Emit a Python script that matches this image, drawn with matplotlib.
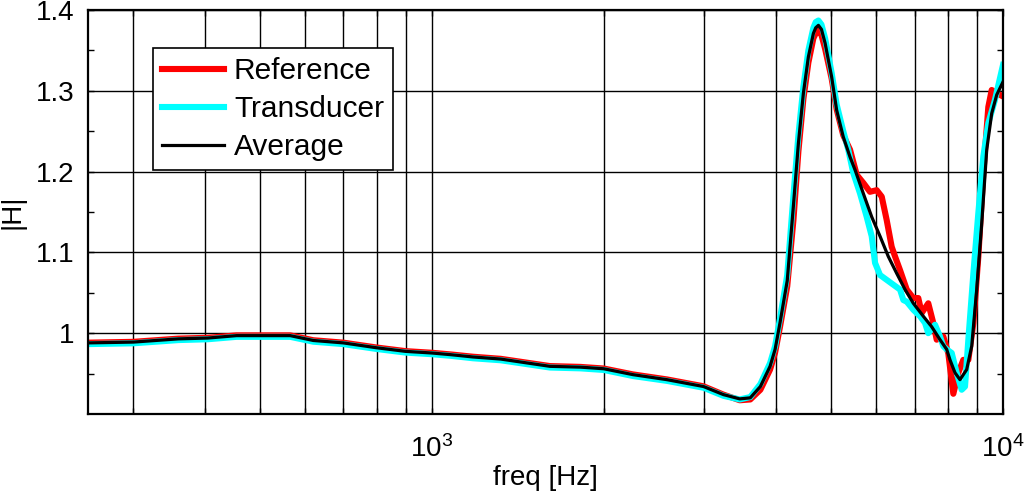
import matplotlib
matplotlib.use("Agg")
import matplotlib.pyplot as plt
from matplotlib.ticker import LogLocator, FixedLocator, NullFormatter

plt.rcParams['font.family'] = ['Liberation Sans', 'DejaVu Sans']
plt.rcParams['mathtext.fontset'] = 'custom'
plt.rcParams['mathtext.rm'] = 'Liberation Sans'
plt.rcParams['mathtext.it'] = 'Liberation Sans'

# ---- data ----
ref_freq = [250, 300, 360, 405, 455, 565, 620, 700, 800, 900, 1000, 1080, 1180, 1320,
            1610, 1820, 2000, 2250, 2580, 2990, 3240, 3460, 3610, 3760, 3910, 3990,
            4070, 4190, 4296, 4383, 4472, 4563, 4656, 4700, 4751, 4810, 4881, 5012,
            5114, 5252, 5398, 5545, 5694, 5849, 6010, 6133, 6257, 6384, 6471, 6603,
            6784, 6966, 7107, 7205, 7399, 7550, 7654, 7861, 8021, 8185, 8352, 8521,
            8696, 8874, 9054, 9238, 9425, 9555, 9750, 10000]
ref_mag = [0.9883, 0.9893, 0.9933, 0.9943, 0.9973, 0.9973, 0.9913, 0.9883, 0.9823,
           0.9778, 0.9758, 0.9737, 0.9709, 0.9683, 0.9593, 0.9583, 0.9563, 0.949, 0.9428,
           0.9343, 0.924, 0.917, 0.918, 0.930, 0.955, 0.976, 1.008, 1.058, 1.140,
           1.225, 1.290, 1.335, 1.365, 1.371, 1.375, 1.369, 1.352, 1.315, 1.277,
           1.245, 1.227, 1.196, 1.186, 1.175, 1.177, 1.169, 1.140, 1.107, 1.095,
           1.078, 1.054, 1.0435, 1.0435, 1.025, 1.037, 1.0126, 0.992, 0.996, 0.975,
           0.925, 0.951, 0.967, 0.967, 1.0126, 1.095, 1.198, 1.280, 1.301, 1.297,
           1.293]

trans_freq = [250, 300, 360, 405, 455, 565, 620, 700, 800, 900, 1000, 1080, 1180, 1320,
              1610, 1820, 2000, 2250, 2580, 2990, 3240, 3460, 3610, 3760, 3910, 3990,
              4070, 4190, 4296, 4383, 4472, 4563, 4656, 4700, 4751, 4810, 4881, 5012,
              5114, 5252, 5359, 5470, 5619, 5772, 5890, 5970, 6091, 6257, 6427, 6603,
              6692, 6784, 6966, 7156, 7303, 7399, 7603, 7757, 7861, 7969, 8132, 8297,
              8466, 8580, 8696, 8874, 9054, 9238, 9425, 9683, 10000]
trans_mag = [0.9865, 0.9875, 0.9915, 0.9925, 0.9955, 0.9955, 0.9895, 0.9865, 0.9805,
             0.976, 0.974, 0.972, 0.969, 0.9665, 0.9575, 0.9565, 0.9545, 0.947, 0.941,
             0.9325, 0.9225, 0.918, 0.921, 0.937, 0.963, 0.984, 1.018, 1.072, 1.170,
             1.245, 1.305, 1.350, 1.378, 1.385, 1.387, 1.382, 1.365, 1.322, 1.283,
             1.250, 1.227, 1.198, 1.173, 1.144, 1.120, 1.087, 1.072, 1.066, 1.060,
             1.054, 1.041, 1.039, 1.029, 1.021, 1.0126, 1.000, 1.0105, 0.996, 0.984,
             0.980, 0.9755, 0.951, 0.930, 0.934, 0.992, 1.074, 1.149, 1.219, 1.260,
             1.289, 1.332]

avg_freq = [250, 300, 360, 405, 455, 565, 620, 700, 800, 900, 1000, 1080, 1180, 1320,
            1610, 1820, 2000, 2250, 2580, 2990, 3240, 3460, 3610, 3760, 3910, 3990,
            4070, 4190, 4296, 4383, 4472, 4563, 4656, 4700, 4751, 4810, 4881, 5012,
            5114, 5252, 5398, 5508, 5694, 5890, 6091, 6297, 6515, 6738, 6966, 7252,
            7501, 7757, 7969, 8076, 8241, 8408, 8638, 8815, 8995, 9178, 9365, 9555,
            9750, 10000]
avg_mag = [0.988, 0.989, 0.993, 0.994, 0.997, 0.997, 0.991, 0.988, 0.982, 0.9775,
           0.9755, 0.9734, 0.9706, 0.968, 0.959, 0.958, 0.956, 0.9487, 0.9425, 0.934,
           0.924, 0.9187, 0.920, 0.934, 0.959, 0.980, 1.013, 1.065, 1.158, 1.235,
           1.297, 1.342, 1.371, 1.378, 1.381, 1.376, 1.359, 1.317, 1.276, 1.243,
           1.218, 1.202, 1.173, 1.144, 1.120, 1.095, 1.074, 1.054, 1.037, 1.021,
           1.008, 0.992, 0.980, 0.967, 0.951, 0.9425, 0.955, 0.984, 1.054, 1.136,
           1.227, 1.272, 1.295, 1.311]

series_labels = ['Reference', 'Transducer', 'Average']
y_ticks = [1.0, 1.1, 1.2, 1.3, 1.4]
y_tick_labels = ['1', '1.1', '1.2', '1.3', '1.4']
y_minor = [0.95, 1.05, 1.15, 1.25, 1.35]

# ---- figure ----
fig = plt.figure(figsize=(10.25, 4.98), dpi=100)
ax = fig.add_axes([88/1025, 1 - 414/498, 915/1025, 404/498])

ax.plot(ref_freq, ref_mag, color='#ff0000', lw=4.4, label=series_labels[0],
        solid_joinstyle='round')
ax.plot(trans_freq, trans_mag, color='#00ffff', lw=4.4, label=series_labels[1],
        solid_joinstyle='round')
ax.plot(avg_freq, avg_mag, color='black', lw=2.3, label=series_labels[2],
        solid_joinstyle='round')

ax.set_xscale('log')
ax.set_xlim(250, 10000)
ax.set_ylim(0.9, 1.4)

ax.xaxis.set_major_locator(FixedLocator([1e3, 1e4]))
ax.set_xticklabels([r'$10^{3}$', r'$10^{4}$'])
ax.xaxis.set_minor_locator(LogLocator(base=10, subs=range(2, 10)))
ax.xaxis.set_minor_formatter(NullFormatter())

ax.set_yticks(y_ticks)
ax.set_yticklabels(y_tick_labels)
ax.yaxis.set_minor_locator(FixedLocator(y_minor))

ax.grid(True, which='major', axis='both', color='black', lw=1.0)
ax.grid(True, which='minor', axis='x', color='black', lw=1.0)
ax.set_axisbelow(True)

ax.tick_params(which='both', direction='in', top=True, right=True, labelsize=20,
               width=1.0, length=4)
ax.tick_params(axis='x', pad=15)
ax.tick_params(axis='y', pad=10)

for s in ax.spines.values():
    s.set_linewidth(1.6)

ax.set_xlabel('freq [Hz]', fontsize=20, labelpad=2)
ax.set_ylabel('|H|', fontsize=20, labelpad=7)

leg = ax.legend(loc='upper left', bbox_to_anchor=(0.0707, 0.905), fontsize=21.5,
                frameon=True, fancybox=False, edgecolor='black', framealpha=1,
                handlelength=2.1, handletextpad=0.32, labelspacing=0.33,
                borderpad=0.3, borderaxespad=0)
leg.get_frame().set_linewidth(1.2)

fig.savefig('out.png', dpi=100)
